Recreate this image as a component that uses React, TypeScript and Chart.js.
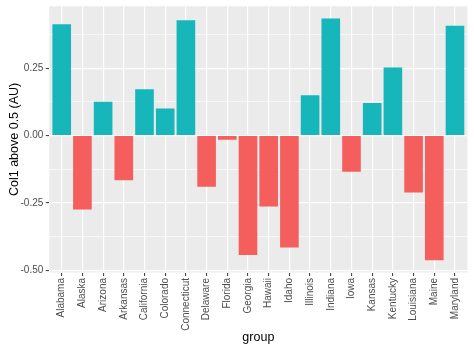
import React, { useEffect, useRef } from 'react';
import { Chart, registerables } from 'chart.js';

Chart.register(...registerables);

const categories = [
  'Alabama', 'Alaska', 'Arizona', 'Arkansas', 'California', 'Colorado', 'Connecticut',
  'Delaware', 'Florida', 'Georgia', 'Hawaii', 'Idaho', 'Illinois', 'Indiana', 'Iowa',
  'Kansas', 'Kentucky', 'Louisiana', 'Maine', 'Maryland',
];
const values = [
  0.413, -0.275, 0.125, -0.166, 0.172, 0.100, 0.428,
  -0.190, -0.016, -0.444, -0.264, -0.416, 0.149, 0.434, -0.135,
  0.121, 0.252, -0.212, -0.463, 0.407,
];
const yMajorTicks = [-0.5, -0.25, 0, 0.25];
const yTickLabels = ['-0.50', '-0.25', '0.00', '0.25'];
const yMinorTicks = [-0.375, -0.125, 0.125, 0.375];

const POS_COLOR = '#17B6BA';
const NEG_COLOR = '#F45F5D';
const FONT = "'Liberation Sans', Arial, sans-serif";

const panelBg = {
  id: 'panelBg',
  beforeDraw(chart: any) {
    const { ctx, chartArea } = chart;
    if (!chartArea) return;
    ctx.save();
    ctx.fillStyle = '#EBEBEB';
    ctx.fillRect(chartArea.left, chartArea.top, chartArea.right - chartArea.left, chartArea.bottom - chartArea.top);
    ctx.restore();
  },
};

export default function App() {
  const canvasRef = useRef<HTMLCanvasElement | null>(null);

  useEffect(() => {
    document.body.style.margin = '0';
    const canvas = canvasRef.current;
    if (!canvas) return;
    const isMajor = (v: number) => yMajorTicks.indexOf(v) >= 0;
    const chart = new Chart(canvas, {
      type: 'bar',
      data: {
        datasets: [
          {
            data: values.map((v, i) => ({ x: i, y: v })),
            backgroundColor: values.map((v) => (v >= 0 ? POS_COLOR : NEG_COLOR)),
            borderWidth: 0,
            barPercentage: 0.9,
            categoryPercentage: 1,
          },
        ],
      },
      options: {
        animation: false,
        responsive: false,
        maintainAspectRatio: false,
        layout: { padding: { top: 6.3, right: 6.6, left: 0, bottom: 0 } },
        plugins: {
          legend: { display: false },
          tooltip: { enabled: false },
        },
        scales: {
          x: {
            type: 'linear',
            offset: false,
            min: -0.6,
            max: categories.length - 1 + 0.6,
            afterBuildTicks: (s: any) => {
              s.ticks = categories.map((_, i) => ({ value: i }));
            },
            afterFit: (s: any) => {
              s.height = 78.5;
              s.paddingLeft = 0;
              s.paddingRight = 0;
            },
            ticks: {
              autoSkip: false,
              minRotation: 90,
              maxRotation: 90,
              padding: 2,
              color: '#4D4D4D',
              font: { family: FONT, size: 10 },
              callback: (v: any) => categories[v] ?? '',
            },
            grid: {
              offset: false,
              color: '#FFFFFF',
              lineWidth: 1.2,
              tickLength: 3.5,
              tickColor: '#333333',
              tickWidth: 1,
            },
            border: { display: false },
            title: {
              display: true,
              text: 'group',
              color: '#000000',
              font: { family: FONT, size: 12.5 },
              padding: { top: 0, bottom: 6 },
            },
          },
          y: {
            type: 'linear',
            min: -0.5085,
            max: 0.4795,
            afterBuildTicks: (s: any) => {
              s.ticks = [...yMajorTicks, ...yMinorTicks]
                .sort((a, b) => a - b)
                .map((v) => ({ value: v }));
            },
            afterFit: (s: any) => {
              s.width = 49.3;
              s.paddingTop = 0;
              s.paddingBottom = 0;
            },
            ticks: {
              autoSkip: false,
              padding: 2.5,
              color: '#4D4D4D',
              font: { family: FONT, size: 10 },
              callback: (v: any) => {
                const i = yMajorTicks.indexOf(v);
                return i >= 0 ? yTickLabels[i] : '';
              },
            },
            grid: {
              color: '#FFFFFF',
              lineWidth: (ctx: any) => (ctx.tick && isMajor(ctx.tick.value) ? 1.2 : 0.6),
              tickLength: 3.5,
              tickWidth: 1,
              tickColor: (ctx: any) => (ctx.tick && isMajor(ctx.tick.value) ? '#333333' : 'rgba(0,0,0,0)'),
            },
            border: { display: false },
            title: {
              display: true,
              text: 'Col1 above 0.5 (AU)',
              color: '#000000',
              font: { family: FONT, size: 12.5 },
              padding: { top: 7, bottom: 0 },
            },
          },
        },
      },
      plugins: [panelBg],
    } as any);
    return () => chart.destroy();
  }, []);

  return (
    <div style={{ position: 'fixed', left: 0, top: 0, width: 474, height: 351, background: '#FFFFFF' }}>
      <canvas ref={canvasRef} width={474} height={351} style={{ display: 'block', width: 474, height: 351 }} />
    </div>
  );
}
